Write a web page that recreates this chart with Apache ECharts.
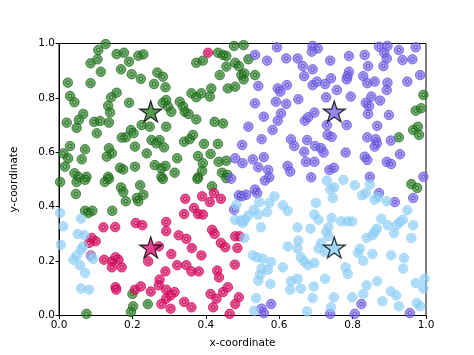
<!DOCTYPE html>
<html><head><meta charset="utf-8">
<script src="https://cdn.jsdelivr.net/npm/echarts@6/dist/echarts.min.js"></script>
<style>html,body{margin:0;padding:0;background:#fff}#c{width:474px;height:355px}</style>
</head><body><div id="c"></div>
<script>
const tickLabels = ['0.0','0.2','0.4','0.6','0.8','1.0'];
const centroids = [[0.25,0.75],[0.75,0.75],[0.25,0.25],[0.75,0.25]];
const greenPts = [[0.127,0.998],[0.107,0.976],[0.157,0.961],[0.177,0.966],[0.216,0.955],[0.230,0.960],[0.086,0.927],[0.105,0.942],[0.191,0.933],[0.114,0.896],[0.169,0.905],[0.198,0.887],[0.223,0.870],[0.024,0.856],[0.086,0.854],[0.030,0.807],[0.042,0.784],[0.157,0.819],[0.142,0.802],[0.191,0.782],[0.134,0.771],[0.139,0.746],[0.066,0.741],[0.054,0.719],[0.021,0.709],[0.048,0.690],[0.096,0.712],[0.112,0.715],[0.136,0.709],[0.225,0.700],[0.196,0.682],[0.203,0.670],[0.182,0.655],[0.171,0.654],[0.103,0.670],[0.030,0.623],[0.071,0.611],[0.136,0.615],[0.144,0.596],[0.130,0.584],[0.207,0.621],[0.239,0.596],[0.012,0.596],[0.025,0.578],[0.062,0.574],[0.016,0.547],[0.166,0.543],[0.175,0.537],[0.207,0.547],[0.042,0.523],[0.053,0.510],[0.075,0.510],[0.134,0.510],
[0.477,0.991],[0.433,0.966],[0.447,0.958],[0.456,0.954],[0.374,0.929],[0.392,0.937],[0.456,0.915],[0.480,0.929],[0.490,0.917],[0.438,0.884],[0.497,0.884],[0.268,0.893],[0.283,0.878],[0.259,0.851],[0.290,0.839],[0.361,0.817],[0.374,0.802],[0.388,0.817],[0.415,0.835],[0.411,0.805],[0.460,0.835],[0.480,0.841],[0.283,0.782],[0.292,0.792],[0.297,0.768],[0.306,0.749],[0.329,0.786],[0.338,0.768],[0.343,0.749],[0.353,0.741],[0.374,0.721],[0.424,0.712],[0.447,0.706],[0.247,0.694],[0.292,0.694],[0.252,0.645],[0.274,0.645],[0.265,0.633],[0.286,0.618],[0.341,0.639],[0.356,0.648],[0.365,0.664],[0.395,0.631],[0.433,0.631],[0.379,0.586],[0.413,0.594],[0.322,0.578],[0.261,0.553],[0.279,0.541],[0.290,0.550],[0.392,0.560],[0.390,0.532],[0.435,0.565],[0.456,0.569],[0.444,0.525],[0.459,0.517],[0.315,0.525],[0.279,0.510],[0.379,0.508],
[0.503,0.994],[0.516,0.942],[0.505,0.890],[0.503,0.868],[0.534,0.884],
[0.993,0.811],[0.972,0.753],[0.987,0.762],[0.926,0.655],[0.965,0.682],[0.978,0.694],[0.981,0.664],
[0.003,0.491],[0.048,0.491],[0.071,0.499],[0.125,0.491],[0.136,0.502],[0.046,0.447],[0.169,0.471],[0.175,0.454],[0.221,0.479],[0.182,0.420],[0.212,0.432],[0.216,0.420],[0.230,0.444],[0.071,0.385],[0.080,0.377],[0.091,0.385],[0.145,0.385],[0.200,0.079],[0.202,0.034],[0.196,0.013],[0.075,0.006],[0.242,0.042],
[0.283,0.502],[0.377,0.502],[0.417,0.475],[0.456,0.505],[0.960,0.483],[0.976,0.469]];
const purplePts = [[0.499,0.627],[0.480,0.578],[0.469,0.503],[0.500,0.560],
[0.594,0.986],[0.534,0.958],[0.567,0.937],[0.619,0.945],[0.650,0.945],[0.691,0.991],[0.705,0.982],[0.689,0.970],[0.739,0.937],[0.664,0.917],[0.691,0.905],[0.668,0.880],[0.543,0.844],[0.596,0.835],[0.603,0.823],[0.621,0.847],[0.691,0.847],[0.703,0.860],[0.725,0.851],[0.741,0.872],[0.757,0.829],[0.534,0.780],[0.591,0.786],[0.619,0.778],[0.652,0.795],[0.728,0.802],[0.558,0.731],[0.605,0.743],[0.596,0.716],[0.670,0.716],[0.679,0.729],[0.696,0.746],[0.516,0.694],[0.582,0.682],[0.730,0.700],[0.732,0.664],[0.743,0.657],[0.552,0.648],[0.632,0.648],[0.641,0.623],[0.676,0.645],[0.698,0.623],[0.714,0.615],[0.721,0.599],[0.668,0.602],[0.558,0.582],[0.528,0.574],[0.543,0.545],[0.570,0.535],[0.623,0.550],[0.630,0.529],[0.673,0.565],[0.696,0.565],[0.737,0.535],[0.749,0.543],[0.573,0.508],[0.687,0.508],
[0.872,0.988],[0.895,0.991],[0.886,0.966],[0.893,0.945],[0.926,0.976],[0.972,0.986],[0.936,0.939],[0.963,0.942],[0.790,0.954],[0.833,0.958],[0.842,0.917],[0.884,0.917],[0.790,0.896],[0.786,0.880],[0.784,0.868],[0.829,0.880],[0.840,0.854],[0.860,0.860],[0.895,0.856],[0.893,0.829],[0.949,0.860],[0.984,0.884],[0.795,0.805],[0.851,0.805],[0.875,0.790],[0.836,0.782],[0.845,0.770],[0.842,0.741],[0.899,0.737],[0.784,0.700],[0.867,0.697],[0.840,0.655],[0.863,0.648],[0.866,0.633],[0.860,0.621],[0.904,0.643],[0.929,0.593],[0.781,0.599],[0.833,0.584],[0.840,0.572],[0.893,0.565],[0.905,0.557],[0.847,0.510],[0.993,0.510],
[0.490,0.442],[0.477,0.389],[0.561,0.496],[0.534,0.463],[0.540,0.450],[0.510,0.444],[0.498,0.438],[0.552,0.025],[0.558,0.009],[0.578,0.042],[0.739,0.006],[0.872,0.450],[0.915,0.417],[0.965,0.432],[0.824,0.042],[0.806,0.006],[0.956,0.009]];
const pinkPts = [[0.406,0.966],
[0.121,0.324],[0.153,0.325],[0.089,0.285],[0.100,0.273],[0.082,0.267],[0.087,0.221],[0.123,0.205],[0.145,0.199],[0.154,0.214],[0.162,0.205],[0.144,0.177],[0.171,0.177],[0.209,0.340],[0.227,0.332],[0.243,0.199],[0.154,0.104],[0.156,0.095],[0.207,0.095],[0.223,0.107],[0.250,0.088],
[0.422,0.450],[0.390,0.438],[0.411,0.417],[0.441,0.429],[0.344,0.429],[0.368,0.395],[0.341,0.373],[0.379,0.373],[0.392,0.371],[0.292,0.344],[0.292,0.310],[0.417,0.315],[0.424,0.300],[0.326,0.295],[0.347,0.282],[0.441,0.267],[0.453,0.251],[0.480,0.291],[0.492,0.291],[0.486,0.248],[0.272,0.254],[0.362,0.248],[0.306,0.226],[0.388,0.221],[0.322,0.185],[0.347,0.185],[0.361,0.162],[0.381,0.162],[0.431,0.165],[0.436,0.140],[0.479,0.187],[0.290,0.162],[0.274,0.132],[0.272,0.111],[0.292,0.095],[0.315,0.086],[0.304,0.074],[0.292,0.062],[0.279,0.042],[0.304,0.025],[0.341,0.050],[0.361,0.030],[0.413,0.079],[0.429,0.062],[0.447,0.086],[0.460,0.104],[0.420,0.030],[0.465,0.006],[0.490,0.067],[0.480,0.042]];
const bluePts = [[0.003,0.377],[0.060,0.356],[0.012,0.328],[0.051,0.300],[0.069,0.295],[0.005,0.260],[0.066,0.254],[0.060,0.242],[0.048,0.221],[0.039,0.205],[0.057,0.185],[0.093,0.208],[0.087,0.218],[0.071,0.156],[0.060,0.099],[0.082,0.095],
[0.483,0.407],[0.480,0.352],[0.495,0.349],
[0.730,0.496],[0.739,0.463],[0.750,0.471],[0.746,0.432],[0.587,0.438],[0.573,0.414],[0.546,0.417],[0.610,0.405],[0.623,0.385],[0.567,0.380],[0.531,0.389],[0.543,0.371],[0.516,0.368],[0.507,0.352],[0.501,0.340],[0.700,0.414],[0.696,0.371],[0.707,0.352],[0.743,0.358],[0.550,0.324],[0.650,0.324],[0.685,0.319],[0.734,0.324],[0.728,0.307],[0.734,0.291],[0.505,0.285],[0.652,0.275],[0.650,0.246],[0.623,0.254],[0.714,0.267],[0.707,0.246],[0.725,0.233],[0.528,0.221],[0.540,0.214],[0.555,0.209],[0.578,0.197],[0.659,0.214],[0.668,0.199],[0.678,0.185],[0.696,0.193],[0.610,0.177],[0.552,0.172],[0.569,0.168],[0.548,0.150],[0.543,0.128],[0.576,0.116],[0.632,0.126],[0.650,0.135],[0.630,0.095],[0.659,0.099],[0.694,0.107],[0.725,0.135],[0.537,0.064],[0.532,0.018],[0.691,0.064],[0.676,0.015],[0.749,0.067],[0.741,0.030],
[0.775,0.499],[0.806,0.479],[0.847,0.481],[0.826,0.442],[0.836,0.450],[0.860,0.426],[0.869,0.435],[0.893,0.420],[0.949,0.387],[0.769,0.346],[0.786,0.346],[0.799,0.346],[0.878,0.356],[0.937,0.352],[0.929,0.344],[0.920,0.332],[0.896,0.332],[0.965,0.332],[0.866,0.319],[0.860,0.307],[0.854,0.295],[0.838,0.285],[0.913,0.303],[0.960,0.285],[0.820,0.246],[0.815,0.230],[0.829,0.201],[0.854,0.226],[0.905,0.221],[0.940,0.211],[0.938,0.172],[0.781,0.177],[0.787,0.153],[0.867,0.126],[0.838,0.111],[0.829,0.079],[0.799,0.067],[0.904,0.089],[0.919,0.074],[0.881,0.052],[0.926,0.034],[0.972,0.119],[0.993,0.099],[0.996,0.135],[0.975,0.046],[0.984,0.034]];

const clusters = [
  {pts: greenPts, fill:'rgba(34,130,30,0.85)', edge:'#1a5514', ring:'#174d12', star:'#2e7f26'},
  {pts: purplePts, fill:'rgba(123,104,238,0.88)', edge:'#5545cc', ring:'#4434b8', star:'#7b68ee'},
  {pts: pinkPts, fill:'rgba(232,16,106,0.92)', edge:'#b0004b', ring:'#980041', star:'#e0106a'},
  {pts: bluePts, fill:'rgba(135,206,250,0.8)', edge:'#93cbef', ring:'#8ac4ea', star:'#87cefa'}
];
const starPath = 'path://M50 0 L61.23 34.55 L97.55 34.55 L68.17 55.9 L79.39 90.45 L50 69.1 L20.61 90.45 L31.83 55.9 L2.45 34.55 L38.77 34.55 Z';
const series = [];
clusters.forEach((c,i)=>{
  series.push({type:'scatter', data:c.pts, symbol:'circle', symbolSize:9.5, silent:true,
    itemStyle:{color:c.fill, borderColor:c.edge, borderWidth:0.8}, z:2+i*0.1});
  series.push({type:'scatter', data:c.pts, symbol:'circle', symbolSize:3.5, silent:true,
    itemStyle:{color:'rgba(255,255,255,0.25)', borderColor:c.ring, borderWidth:0.8}, z:2+i*0.1+0.05});
});
clusters.forEach((c,i)=>{
  series.push({type:'scatter', data:[centroids[i]], symbol:starPath, symbolKeepAspect:true, symbolSize:22, silent:true,
    itemStyle:{color:c.star, borderColor:'#000', borderWidth:1.2}, z:10});
});
const fmt = v => tickLabels[Math.round(v/0.2)];
const chart = echarts.init(document.getElementById('c'), null, {renderer:'canvas'});
chart.setOption({
  animation:false,
  grid:{left:59, right:48, top:43.5, bottom:39.5, show:true, borderColor:'#000', borderWidth:1, backgroundColor:'transparent'},
  xAxis:{type:'value', min:0, max:1, interval:0.2, name:'x-coordinate', nameLocation:'middle', nameGap:22,
    nameTextStyle:{fontFamily:'DejaVu Sans', fontSize:10.5, color:'#000'},
    axisLine:{show:true, lineStyle:{color:'#000', width:1}}, splitLine:{show:false},
    axisTick:{show:true, inside:false, length:3.5, lineStyle:{color:'#000'}},
    axisLabel:{formatter:fmt, fontFamily:'DejaVu Sans', fontSize:10.5, color:'#000', margin:4}},
  yAxis:{type:'value', min:0, max:1, interval:0.2, name:'y-coordinate', nameLocation:'middle', nameGap:39,
    nameTextStyle:{fontFamily:'DejaVu Sans', fontSize:10.5, color:'#000'},
    axisLine:{show:true, lineStyle:{color:'#000', width:1}}, splitLine:{show:false},
    axisTick:{show:true, inside:false, length:3.5, lineStyle:{color:'#000'}},
    axisLabel:{formatter:fmt, fontFamily:'DejaVu Sans', fontSize:10.5, color:'#000', margin:4}},
  series: series
});
</script></body></html>
